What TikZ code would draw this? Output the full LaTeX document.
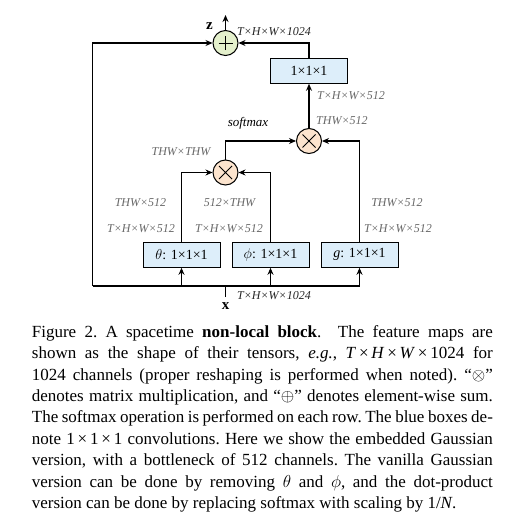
\documentclass[tikz,border=0pt]{standalone}
\usepackage{fontspec}
\setmainfont{Liberation Serif}
\usetikzlibrary{arrows.meta}
\definecolor{boxblue}{RGB}{221,238,250}
\definecolor{plusgreen}{RGB}{228,240,204}
\definecolor{timesorange}{RGB}{252,228,206}
\definecolor{lblgray}{RGB}{105,105,105}
\newcommand{\tms}{\,×\,}
\begin{document}
\begin{tikzpicture}[x=1pt,y=-1pt,
  conv/.style={draw, line width=1pt, fill=boxblue, minimum width=77pt, minimum height=25pt, inner sep=0pt, font=\fontsize{14}{16}\selectfont},
  opc/.style={draw, circle, line width=1pt, minimum size=25pt, inner sep=0pt},
  flow/.style={line width=1.1pt, -{Stealth[length=7pt,width=6pt]}},
  wire/.style={line width=1.1pt},
  dim/.style={font=\fontsize{12}{14}\selectfont\itshape, text=lblgray, inner sep=0pt},
  dimdark/.style={dim, text=black!85},
  bold/.style={font=\fontsize{15}{17}\selectfont\bfseries, inner sep=0pt}]
\useasboundingbox (0,0) rectangle (510,522);
\fill[white] (0,0) rectangle (510,522);

% operators
\node[opc, fill=plusgreen] (plus) at (225.5,43) {};
\draw[line width=1pt] ([xshift=-7pt]plus.center) -- ([xshift=7pt]plus.center)
                      ([yshift=-7pt]plus.center) -- ([yshift=7pt]plus.center);
\node[opc, fill=timesorange] (mulB) at (309,141) {};
\draw[line width=1pt] ([shift={(-6.5,-6.5)}]mulB.center) -- ([shift={(6.5,6.5)}]mulB.center)
                      ([shift={(-6.5,6.5)}]mulB.center) -- ([shift={(6.5,-6.5)}]mulB.center);
\node[opc, fill=timesorange] (mulA) at (225.5,172.5) {};
\draw[line width=1pt] ([shift={(-6.5,-6.5)}]mulA.center) -- ([shift={(6.5,6.5)}]mulA.center)
                      ([shift={(-6.5,6.5)}]mulA.center) -- ([shift={(6.5,-6.5)}]mulA.center);

% boxes
\node[conv] (out) at (309,70.8) {1×1×1};
\node[conv] (theta) at (181.5,254.8) {$\theta$: 1×1×1};
\node[conv] (phi) at (270.5,254.8) {$\phi$: 1×1×1};
\node[conv] (g) at (359.5,254.8) {\textit{g}: 1×1×1};

% coordinates
\coordinate (bl) at (92.7,286);
\coordinate (br) at (359.5,286);
\coordinate (xin) at (225.5,297);
\coordinate (zout) at (225.5,15);

% wires
\draw[wire] (bl) -- (br);
\draw[wire] (xin) -- (xin |- bl);
\draw[flow] (theta.south |- bl) -- (theta.south);
\draw[flow] (phi.south |- bl) -- (phi.south);
\draw[flow] (g.south |- bl) -- (g.south);
\draw[flow] (bl) |- (plus.west);
\draw[flow] (theta.north) |- (mulA.west);
\draw[flow] (phi.north) |- (mulA.east);
\draw[flow] (mulA.north) |- (mulB.west);
\draw[flow] (g.north) |- (mulB.east);
\draw[flow] (mulB.north) -- (out.south);
\draw[flow] (out.north) |- (plus.east);
\draw[flow] (plus.north) -- (zout);

% labels
\node[bold] (zlab) at (209.5,26) {z};
\node[bold] (xlab) at (225.5,306) {x};
\node[dimdark, anchor=west] (l1024t) at (237,32) {T×H×W×1024};
\node[dimdark, anchor=west] (l1024b) at (237,296) {T×H×W×1024};
\node[dim, anchor=west] (lout) at (317,95.7) {T×H×W×512};
\node[dim, anchor=west] (lthw5) at (316,121) {THW×512};
\node[font=\fontsize{13}{15}\selectfont\itshape, inner sep=0pt] (soft) at (248,123) {softmax};
\node[dim] (lthwthw) at (181,152) {THW×THW};
\node[dim] (lta) at (140.5,203) {THW×512};
\node[dim] (lpa) at (229.5,203) {512×THW};
\node[dim] (lga) at (397,203) {THW×512};
\node[dim] (ltb) at (141,229) {T×H×W×512};
\node[dim] (lpb) at (229,229) {T×H×W×512};
\node[dim] (lgb) at (398,229) {T×H×W×512};

% caption
\node[anchor=base west, text width=461pt, align=justify, inner sep=0pt,
      font=\fontsize{17}{21.4}\selectfont] (cap) at (31.7,337.3)
{\frenchspacing\tolerance=10000\hyphenpenalty=10000\emergencystretch=20pt
Figure 2. A spacetime \textbf{non-local block}.\ \ The feature maps are\linebreak
shown as the shape of their tensors, \textit{e.g.}, \textit{T}\tms\textit{H}\tms\textit{W}\tms1024 for\linebreak
1024 channels (proper reshaping is performed when noted).\ “$\otimes$”\linebreak
denotes matrix multiplication, and “$\oplus$” denotes element-wise sum.\linebreak
The softmax operation is performed on each row. The blue boxes de-\linebreak
note 1\tms1\tms1 convolutions. Here we show the embedded Gaussian\linebreak
version, with a bottleneck of 512 channels. The vanilla Gaussian\linebreak
version can be done by removing $\theta$ and $\phi$, and the dot-product\linebreak
version can be done by replacing softmax with scaling by 1/\textit{N}.};
\end{tikzpicture}
\end{document}
